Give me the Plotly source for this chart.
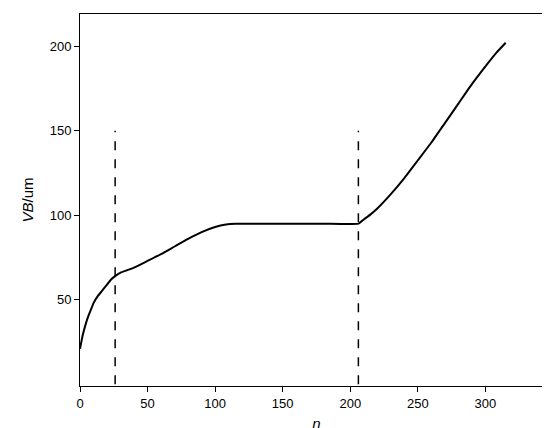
import plotly.graph_objects as go

n_vals = [0, 2, 4, 6, 8, 10, 13, 16, 20, 23, 26, 30, 35, 40, 50, 60, 70, 80, 90, 100, 108, 115, 120, 150, 180, 206,
          210, 215, 220, 230, 240, 250, 260, 270, 280, 290, 300, 308, 315]
vb_vals = [21, 29, 35, 40, 44, 48, 52, 55, 59, 62, 64, 66, 67.5, 69, 73, 77, 81.5, 86, 90, 93, 94.5, 95, 95, 95, 95, 95,
           97.5, 100.5, 104, 112.5, 122, 132.5, 143, 154.5, 166, 177.5, 188, 196, 202]
stage_bounds = [26, 206]
dash_range = [0, 150]

fig = go.Figure()
fig.add_trace(go.Scatter(x=n_vals, y=vb_vals, mode="lines",
                         line=dict(color="black", width=2, shape="spline", smoothing=0.4)))
for b in stage_bounds:
    fig.add_trace(go.Scatter(x=[b, b], y=dash_range, mode="lines",
                             line=dict(color="black", width=1.5, dash="dash")))

axis_common = dict(showline=True, linecolor="black", linewidth=1, mirror=True,
                   ticks="outside", ticklen=5, tickcolor="black", showgrid=False,
                   zeroline=False, tickfont=dict(size=13, color="black"))
fig.update_layout(
    width=550, height=428, showlegend=False,
    plot_bgcolor="white", paper_bgcolor="white",
    font=dict(family="Liberation Sans, Arial", color="black"),
    margin=dict(l=72, r=5, t=6, b=50, pad=0),
    xaxis=dict(range=[0, 350], tickvals=[0, 50, 100, 150, 200, 250, 300, 350],
               title=dict(text="<i>n</i>", font=dict(size=15), standoff=8), **axis_common),
    yaxis=dict(range=[-1, 219], tickvals=[50, 100, 150, 200],
               title=dict(text="<i>VB</i>/um", font=dict(size=15), standoff=12), **axis_common),
)
fig.write_html("out.html")
